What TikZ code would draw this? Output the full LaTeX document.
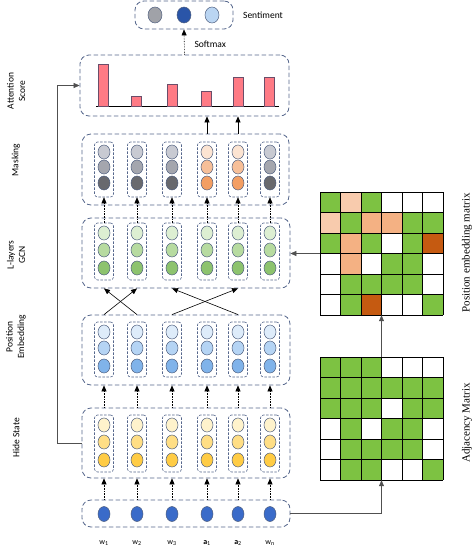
\documentclass[tikz,border=0pt]{standalone}
\usepackage{fontspec}
\setmainfont{Carlito}
\newfontfamily\timesfont{Liberation Serif}
\usetikzlibrary{arrows.meta,shapes.geometric}
\definecolor{boxblue}{HTML}{56678C}
\definecolor{dotline}{HTML}{4F5F7F}
\definecolor{linegray}{HTML}{505050}
\definecolor{gryA}{HTML}{C8CAD2}
\definecolor{gryB}{HTML}{A4A6AE}
\definecolor{gryC}{HTML}{68696E}
\definecolor{orgA}{HTML}{FCE4D2}
\definecolor{orgB}{HTML}{F7BF98}
\definecolor{orgC}{HTML}{F39E63}
\definecolor{grnA}{HTML}{DDEFD2}
\definecolor{grnB}{HTML}{B7DBA0}
\definecolor{grnC}{HTML}{8DC36E}
\definecolor{bluA}{HTML}{DEECFA}
\definecolor{bluB}{HTML}{B5D4F4}
\definecolor{bluC}{HTML}{80B3EA}
\definecolor{ylwA}{HTML}{FFF3CC}
\definecolor{ylwB}{HTML}{FFDE85}
\definecolor{ylwC}{HTML}{FFCC45}
\definecolor{inpblue}{HTML}{3A6BC9}
\definecolor{sentgray}{HTML}{A0A2A8}
\definecolor{sentblue}{HTML}{2A55A8}
\definecolor{sentlight}{HTML}{BAD5F2}
\definecolor{barpink}{HTML}{FF7A85}
\definecolor{baredge}{HTML}{6A4E6A}
\definecolor{cellg}{HTML}{7DC242}
\definecolor{celll}{HTML}{F8CBAD}
\definecolor{cello}{HTML}{F4B183}
\definecolor{celld}{HTML}{C55A11}
\definecolor{cellw}{HTML}{FFFFFF}

\begin{document}
\begin{tikzpicture}[x=1pt,y=-1pt]
\tikzstyle{every node}+=[inner sep=0pt, font=\fontsize{9.5}{11.5}\selectfont]
\tikzstyle{stagebox}=[draw=boxblue, dash pattern=on 4.5pt off 2.5pt, line width=0.8pt, rounded corners=9pt]
\tikzstyle{colbox}=[draw=boxblue, dash pattern=on 2.5pt off 1.5pt, line width=0.6pt, rounded corners=3pt, minimum width=19pt]
\tikzstyle{neuron}=[ellipse, draw=dotline, line width=0.5pt, minimum width=12pt, minimum height=14pt]
\tikzstyle{uparrow}=[-{Triangle[width=5pt,length=6pt]}, line width=0.6pt]
\tikzstyle{dotarrow}=[uparrow, densely dotted]
\tikzstyle{bar}=[fill=barpink, draw=baredge, line width=0.6pt]
\useasboundingbox (0,0) rectangle (474,546);

% layer boxes
\node[stagebox, minimum width=98pt, minimum height=28pt] (sent) at (184,15) {};
\node[stagebox, minimum width=209pt, minimum height=61pt] (att) at (184.5,85.5) {};
\node[stagebox, minimum width=207pt, minimum height=71pt] (mask) at (185.5,169.5) {};
\node[stagebox, minimum width=208pt, minimum height=70pt] (gcn) at (186,253) {};
\node[stagebox, minimum width=208pt, minimum height=70pt] (pos) at (186,350) {};
\node[stagebox, minimum width=208pt, minimum height=70pt] (hide) at (186,443) {};
\node[stagebox, minimum width=208pt, minimum height=27pt] (inp) at (186,513.5) {};

% sentiment
\node[neuron, fill=sentgray, minimum width=14pt, minimum height=16pt] (s1) at (155,15) {};
\node[neuron, fill=sentblue, minimum width=14pt, minimum height=16pt] (s2) at (184,15) {};
\node[neuron, fill=sentlight, minimum width=14pt, minimum height=16pt] (s3) at (212,15) {};
\node (sentlbl) at (263,15) {Sentiment};

% attention score
\draw[line width=0.9pt] (96,106) -- (279,106);
\foreach \x/\h in {103/42,136.5/10,172.5/22,206.5/15,238.5/29,269/29}
  \draw[bar] (\x-5,106) rectangle (\x+5,106-\h);

% masking, gcn, position embedding, hide state, input
\foreach \x/\cc [count=\k] in {104/gry,137/gry,172/gry,207/org,238/org,270/gry}{
  \node[colbox, minimum height=55pt] (m\k) at (\x,169.5) {};
  \node[neuron, fill=\cc A] (m\k-a) at (\x,152) {};
  \node[neuron, fill=\cc B] (m\k-b) at (\x,167) {};
  \node[neuron, fill=\cc C] (m\k-c) at (\x,183) {};
  \node[colbox, minimum height=57pt] (g\k) at (\x,251.5) {};
  \node[neuron, fill=grnA] (g\k-a) at (\x,233) {};
  \node[neuron, fill=grnB] (g\k-b) at (\x,250) {};
  \node[neuron, fill=grnC] (g\k-c) at (\x,268) {};
  \node[colbox, minimum height=55pt] (p\k) at (\x,349.5) {};
  \node[neuron, fill=bluA] (p\k-a) at (\x,332) {};
  \node[neuron, fill=bluB] (p\k-b) at (\x,348) {};
  \node[neuron, fill=bluC] (p\k-c) at (\x,366) {};
  \node[colbox, minimum height=57pt] (h\k) at (\x,443.5) {};
  \node[neuron, fill=ylwA] (h\k-a) at (\x,425) {};
  \node[neuron, fill=ylwB] (h\k-b) at (\x,442) {};
  \node[neuron, fill=ylwC] (h\k-c) at (\x,460) {};
  \node[neuron, fill=inpblue, minimum height=15pt] (i\k) at (\x,514) {};
}

% word labels
\node[font=\fontsize{8}{9}\selectfont] (w1) at (104,543) {w\textsubscript{1}};
\node[font=\fontsize{8}{9}\selectfont] (w2) at (137,543) {w\textsubscript{2}};
\node[font=\fontsize{8}{9}\selectfont] (w3) at (172,543) {w\textsubscript{3}};
\node[font=\fontsize{8}{9}\selectfont] (a1) at (207,543) {\textbf{a}\textsubscript{1}};
\node[font=\fontsize{8}{9}\selectfont] (a2) at (238,543) {\textbf{a}\textsubscript{2}};
\node[font=\fontsize{8}{9}\selectfont] (wn) at (270,543) {w\textsubscript{n}};

% side labels
\node[rotate=90, align=center] (lblatt) at (16,91) {Attention\\Score};
\node[rotate=90, align=center] (lblmask) at (16,160) {Masking};
\node[rotate=90, align=center] (lblgcn) at (16,255) {L-layers\\GCN};
\node[rotate=90, align=center] (lblpos) at (16,337) {Position\\Embedding};
\node[rotate=90, align=center] (lblhide) at (16,438) {Hide State};

% arrows between layers
\foreach \k in {1,...,6}{
  \draw[dotarrow] (inp.north -| i\k) -- (hide.south -| i\k);
  \draw[dotarrow] (hide.north -| h\k) -- (pos.south -| h\k);
  \draw[dotarrow] (g\k.north) -- (m\k.south);
}
\draw[uparrow] (pos.north -| p1) -- (gcn.south -| p2);
\draw[uparrow] (pos.north -| p2) -- (gcn.south -| p1);
\draw[uparrow] (pos.north -| p3) -- (gcn.south -| p5);
\draw[uparrow] (pos.north -| p5) -- (gcn.south -| p3);
\draw[uparrow] (mask.north -| m4) -- (att.south -| m4);
\draw[uparrow] (mask.north -| m5) -- (att.south -| m5);
\draw[dotarrow] (att.north) -- (sent.south) node[pos=0.4, right=10pt] (softlbl) {Softmax};
\draw[uparrow, draw=linegray] (hide.west) -- ++(-24,0) |- (att.west);

% matrices
\node[minimum width=123pt, minimum height=123pt] (pmat) at (381.5,253.5) {};
\node[minimum width=123pt, minimum height=123pt] (amat) at (381.5,418.5) {};
\foreach \row [count=\r] in {{g,l,g,w,w,w},{l,g,o,o,g,g},{g,o,g,w,g,d},{w,o,w,g,g,w},{w,g,g,g,g,w},{w,g,d,w,w,g}}
  \foreach \c [count=\k] in \row
    \fill[cell\c] ({320+(\k-1)*20.5},{192+(\r-1)*20.5}) rectangle ++(20.5,20.5);
\foreach \row [count=\r] in {{g,g,g,w,w,w},{g,g,g,g,g,g},{g,g,g,w,g,g},{w,g,w,g,g,w},{w,g,g,g,g,w},{w,g,g,w,w,g}}
  \foreach \c [count=\k] in \row
    \fill[cell\c] ({320+(\k-1)*20.5},{357+(\r-1)*20.5}) rectangle ++(20.5,20.5);
\foreach \i in {0,...,6}{
  \draw[line width=1pt] ({320+\i*20.5},192) -- ++(0,123);
  \draw[line width=1pt] (320,{192+\i*20.5}) -- ++(123,0);
  \draw[line width=1pt] ({320+\i*20.5},357) -- ++(0,123);
  \draw[line width=1pt] (320,{357+\i*20.5}) -- ++(123,0);
}
\draw[uparrow, draw=linegray] (pmat.west) -- (pmat.west -| gcn.east);
\draw[uparrow, draw=linegray] (amat.north) -- (pmat.south);
\draw[uparrow, draw=linegray] (inp.east) -| (amat.south);

\node[rotate=90, font=\timesfont\fontsize{11}{13}\selectfont] (lblpmat) at (467,253) {Position embedding matrix};
\node[rotate=90, font=\timesfont\fontsize{11}{13}\selectfont] (lblamat) at (467,423) {Adjacency Matrix};
\end{tikzpicture}
\end{document}
